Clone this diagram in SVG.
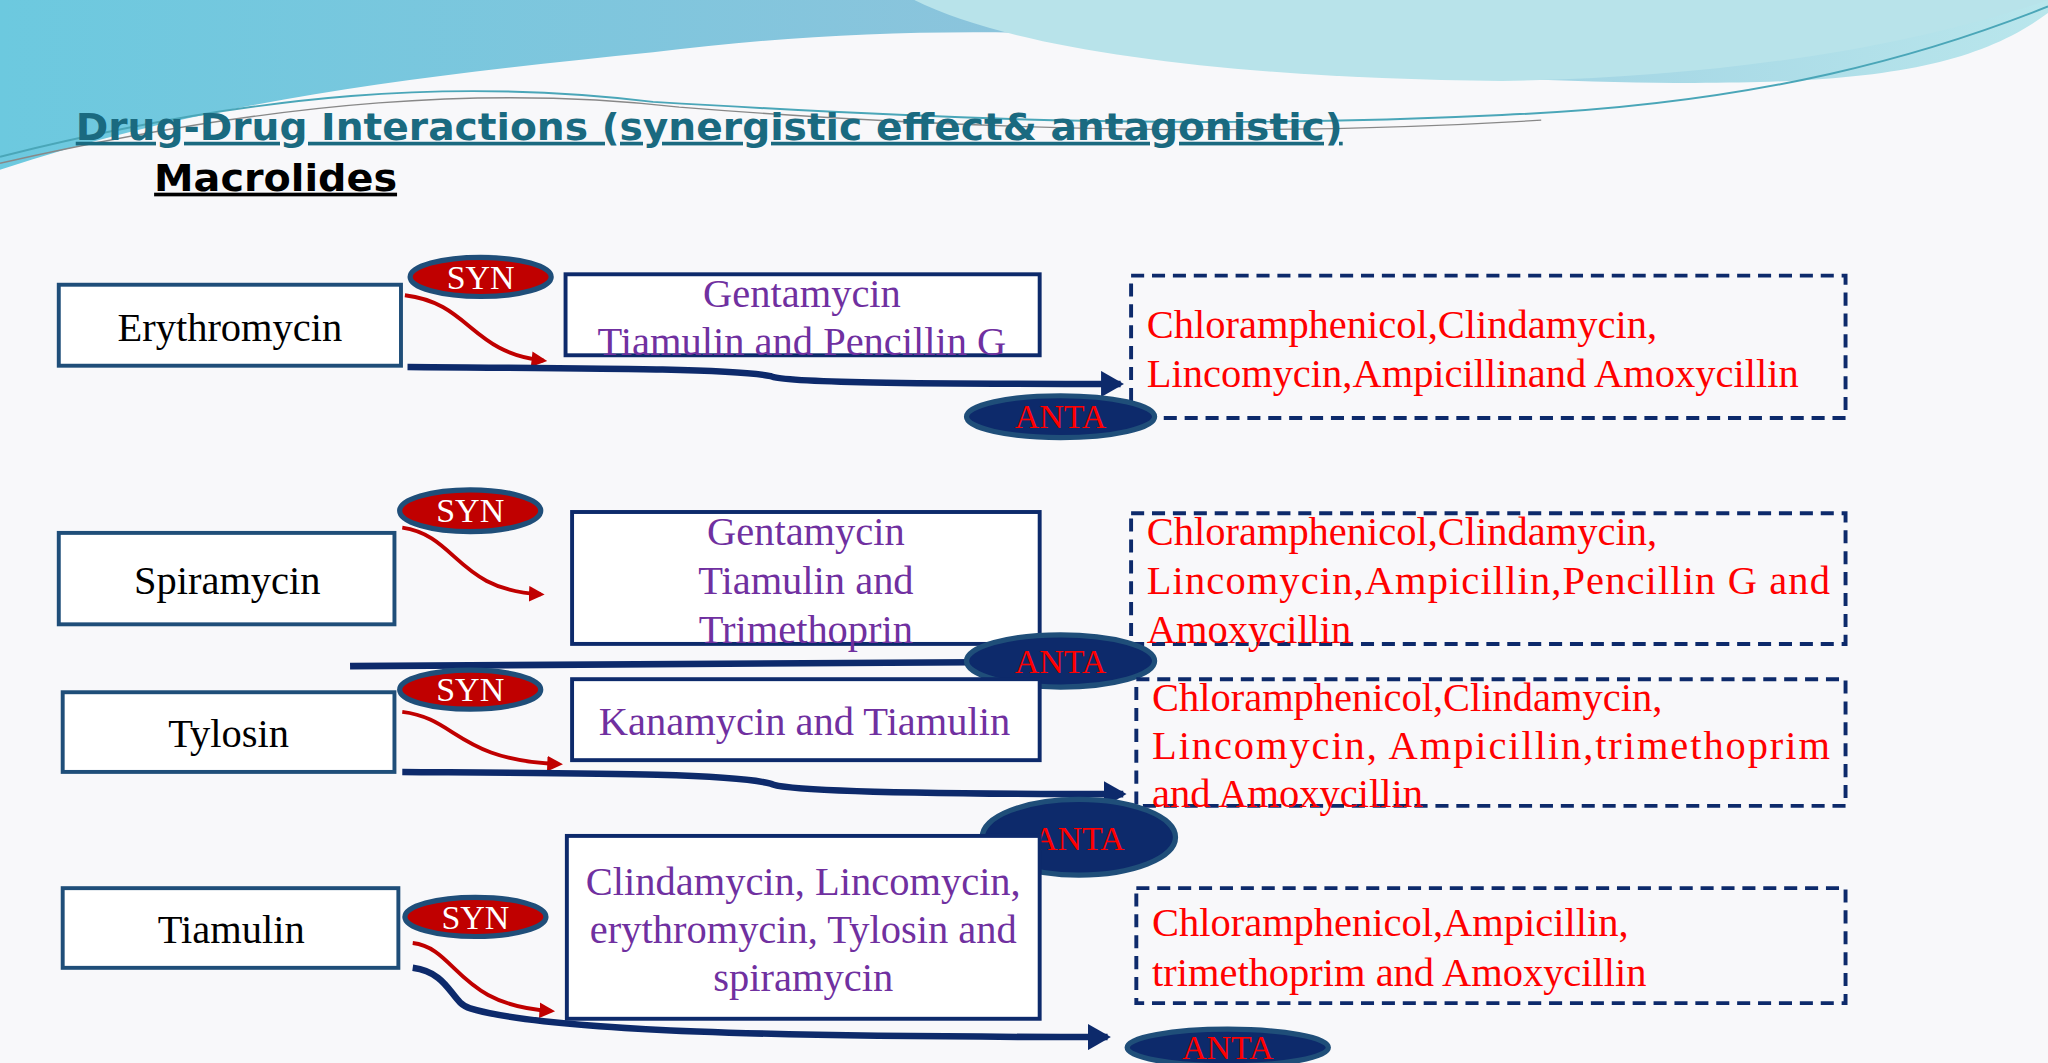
<svg xmlns="http://www.w3.org/2000/svg" width="2048" height="1063" viewBox="0 0 2048 1063">
<defs>
<style>
.box{fill:#fff;stroke:#1f4e79;stroke-width:3}
.box2{fill:#fff;stroke:#0d2a6b;stroke-width:3}
.dash{fill:none;stroke:#0d2a6b;stroke-width:3;stroke-dasharray:10 6}
.t{font-family:"Liberation Serif",serif;font-size:31px}
.blk{fill:#000;text-anchor:middle}
.pur{fill:#7030a0;text-anchor:middle}
.red{fill:#ff0000}
.syn{fill:#c00000;stroke:#1f4e79;stroke-width:4}
.anta{fill:#0d2a6b;stroke:#1f4e79;stroke-width:4}
.synt{fill:#fff;font-family:"Liberation Serif",serif;font-size:26px;text-anchor:middle}
.antat{fill:#ff0000;font-family:"Liberation Serif",serif;font-size:26px;text-anchor:middle}
.rc{fill:none;stroke:#c00000;stroke-width:3;marker-end:url(#ra)}
.nc{fill:none;stroke:#0d2a6b;stroke-width:5;marker-end:url(#na)}
</style>
<marker id="ra" markerWidth="4" markerHeight="4" refX="3" refY="2" orient="auto" markerUnits="strokeWidth"><path d="M0,0 L4,2 L0,4 Z" fill="#c00000"/></marker>
<marker id="na" markerWidth="3.5" markerHeight="4" refX="3" refY="2" orient="auto" markerUnits="strokeWidth"><path d="M0,0 L3.5,2 L0,4 Z" fill="#0d2a6b"/></marker>
<linearGradient id="bg1" x1="0" y1="0" x2="1" y2="0"><stop offset="0" stop-color="#6cc9df"/><stop offset="0.5" stop-color="#8cc4dc"/><stop offset="1" stop-color="#b9e6ec"/></linearGradient>
</defs>
<rect width="2048" height="1063" fill="#f8f8fa"/>
<g transform="scale(1.30612)">
<g id="background">
<path d="M0,0 H1568 V10 C1500,60 1400,70 1150,60 C900,20 700,15 500,40 C300,60 150,80 0,130 Z" fill="url(#bg1)"/>
<path d="M700,0 C780,40 950,60 1150,62 C1300,60 1450,40 1568,0 Z" fill="#b8e3ea"/>
<path d="M0,120 C200,70 350,60 500,78 C700,90 900,100 1150,88 C1350,80 1480,40 1568,5" fill="none" stroke="#4aa6b8" stroke-width="1.5"/>
<path d="M0,125 C220,75 380,66 520,82 C720,98 950,106 1180,92" fill="none" stroke="#888" stroke-width="1"/>
</g>
<g id="title">
<text x="58" y="107" font-family="DejaVu Sans,sans-serif" font-weight="bold" font-size="28" fill="#1a6a80" textLength="970" lengthAdjust="spacingAndGlyphs" text-decoration="underline">Drug-Drug Interactions (synergistic effect&amp; antagonistic)</text>
<text x="118" y="146" font-family="DejaVu Sans,sans-serif" font-weight="bold" font-size="28" fill="#000" textLength="186" lengthAdjust="spacingAndGlyphs" text-decoration="underline">Macrolides</text>
</g>
<g id="connectors">
<path class="rc" d="M310,226 C360,232 360,270 416,276"/>
<path class="nc" d="M312,281 C450,282 560,282 590,288 C600,293 700,294 858,294"/>
<path class="rc" d="M308,404 C350,410 350,452 414,455"/>
<path d="M268,510 L745,507" fill="none" stroke="#0d2a6b" stroke-width="5"/>
<path class="rc" d="M308,545 C350,550 350,582 428,585"/>
<path class="nc" d="M308,591 C450,592 560,592 590,600 C600,606 700,608 860,608"/>
<path class="rc" d="M316,722 C350,726 350,770 422,774"/>
<path class="nc" d="M316,741 C345,745 345,768 360,772 C420,790 600,794 848,794"/>
</g>
<g id="erythromycin"><rect class="box" x="45" y="218" width="262" height="62"/><text class="t blk" x="176" y="261">Erythromycin</text></g>
<g id="syn1"><ellipse class="syn" cx="368" cy="212" rx="54" ry="15"/><text class="synt" x="368" y="221">SYN</text></g>
<g id="syn-ery"><rect class="box2" x="433" y="210" width="363" height="62"/><text class="t pur" x="614" y="235">Gentamycin</text><text class="t pur" x="614" y="272">Tiamulin and Pencillin G</text></g>
<g id="anta-ery"><rect class="dash" x="866" y="211" width="547" height="109"/><text class="t red" x="878" y="259">Chloramphenicol,Clindamycin,</text><text class="t red" x="878" y="296">Lincomycin,Ampicillinand Amoxycillin</text></g>
<g id="anta1"><ellipse class="anta" cx="812" cy="319" rx="72" ry="16"/><text class="antat" x="812" y="328">ANTA</text></g>

<g id="spiramycin"><rect class="box" x="45" y="408" width="257" height="70"/><text class="t blk" x="174" y="455">Spiramycin</text></g>
<g id="syn2"><ellipse class="syn" cx="360" cy="391" rx="54" ry="16"/><text class="synt" x="360" y="400">SYN</text></g>
<g id="syn-spi"><rect class="box2" x="438" y="392" width="358" height="101"/><text class="t pur" x="617" y="417">Gentamycin</text><text class="t pur" x="617" y="455">Tiamulin and</text><text class="t pur" x="617" y="492">Trimethoprin</text></g>
<g id="anta-spi"><rect class="dash" x="866" y="393" width="547" height="100"/><text class="t red" x="878" y="417">Chloramphenicol,Clindamycin,</text><text class="t red" x="878" y="455" textLength="523" lengthAdjust="spacing">Lincomycin,Ampicillin,Pencillin   G   and</text><text class="t red" x="878" y="492">Amoxycillin</text></g>
<g id="anta2"><ellipse class="anta" cx="812" cy="506" rx="72" ry="20"/><text class="antat" x="812" y="515">ANTA</text></g>

<g id="tylosin"><rect class="box" x="48" y="530" width="254" height="61"/><text class="t blk" x="175" y="572">Tylosin</text></g>
<g id="syn3"><ellipse class="syn" cx="360" cy="528" rx="54" ry="15"/><text class="synt" x="360" y="537">SYN</text></g>
<g id="syn-tyl"><rect class="box2" x="438" y="520" width="358" height="62"/><text class="t pur" x="616" y="563">Kanamycin and Tiamulin</text></g>
<g id="anta-tyl"><rect class="dash" x="870" y="520" width="543" height="97"/><text class="t red" x="882" y="544">Chloramphenicol,Clindamycin,</text><text class="t red" x="882" y="581" textLength="519" lengthAdjust="spacing">Lincomycin,      Ampicillin,trimethoprim</text><text class="t red" x="882" y="618">and Amoxycillin</text></g>
<g id="anta3"><ellipse class="anta" cx="826" cy="641" rx="74" ry="29"/><text class="antat" x="826" y="651">ANTA</text></g>

<g id="tiamulin"><rect class="box" x="48" y="680" width="257" height="61"/><text class="t blk" x="177" y="722">Tiamulin</text></g>
<g id="syn4"><ellipse class="syn" cx="364" cy="702" rx="54" ry="15"/><text class="synt" x="364" y="711">SYN</text></g>
<g id="syn-tia"><rect class="box2" x="434" y="640" width="362" height="140"/><text class="t pur" x="615" y="685">Clindamycin, Lincomycin,</text><text class="t pur" x="615" y="722">erythromycin, Tylosin and</text><text class="t pur" x="615" y="759">spiramycin</text></g>
<g id="anta-tia"><rect class="dash" x="870" y="680" width="543" height="88"/><text class="t red" x="882" y="717">Chloramphenicol,Ampicillin,</text><text class="t red" x="882" y="755">trimethoprim and Amoxycillin</text></g>
<g id="anta4"><ellipse class="anta" cx="940" cy="802" rx="77" ry="14"/><text class="antat" x="940" y="811">ANTA</text></g>
</g>
</svg>
